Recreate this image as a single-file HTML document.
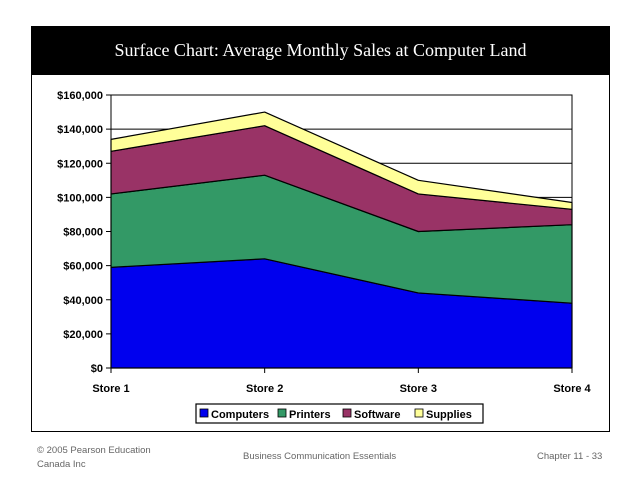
<!DOCTYPE html>
<html><head><meta charset="utf-8"><style>
body{margin:0;width:638px;height:479px;background:#fff;overflow:hidden;font-family:"Liberation Sans",sans-serif;}
#title{position:absolute;left:31px;top:26px;width:579px;height:49px;background:#000;color:#fff;font-family:"Liberation Serif",serif;font-size:18px;text-align:center;line-height:49px;}
#box{position:absolute;left:31px;top:75px;width:577px;height:356px;border:1.5px solid #000;border-top:none;box-sizing:content-box;}
.foot{position:absolute;font-size:9.5px;color:#666;}
</style></head><body>
<div id="title">Surface Chart: Average Monthly Sales at Computer Land</div>
<div id="box"></div>
<svg id="chart" width="638" height="479" style="position:absolute;left:0;top:0"></svg>
<div class="foot" style="left:37px;top:444px;line-height:14px">© 2005 Pearson Education<br>Canada Inc</div>
<div class="foot" style="left:243px;top:451px">Business Communication Essentials</div>
<div class="foot" style="left:537px;top:451px">Chapter 11 - 33</div>
<script>
const categories=["Store 1","Store 2","Store 3","Store 4"];
const computers=[59000,64000,44000,38000];
const printers=[43000,49000,36000,46000];
const software=[25000,29000,22000,9000];
const supplies=[7000,8000,8000,4000];
const seriesNames=["Computers","Printers","Software","Supplies"];
const seriesColors=["#0000ee","#339966","#993366","#ffff99"];
const yTicks=[0,20000,40000,60000,80000,100000,120000,140000,160000];
const NS="http://www.w3.org/2000/svg",svg=document.getElementById('chart');
const X0=111,X1=572,Y0=368,Y1=95,YMAX=160000;
const xs=i=>X0+i*(X1-X0)/(categories.length-1);
const ys=v=>Y0-v/YMAX*(Y0-Y1);
function mk(t,a){const e=document.createElementNS(NS,t);for(const k in a)e.setAttribute(k,a[k]);svg.appendChild(e);return e;}
mk('rect',{x:X0,y:Y1,width:X1-X0,height:Y0-Y1,fill:'#fff',stroke:'#000','stroke-width':1});
yTicks.forEach(v=>{
 const g=mk('line',{x1:X0-5,x2:X1,y1:ys(v),y2:ys(v),stroke:'#000','stroke-width':1});
 
 const t=mk('text',{x:X0-8,y:ys(v)+4,'text-anchor':'end','font-size':11,'font-weight':'bold'});
 t.textContent='$'+v.toLocaleString('en-US');
 
});
const series=[computers,printers,software,supplies];
let base=categories.map(()=>0);
series.forEach((s,si)=>{
 const top=base.map((b,i)=>b+s[i]);
 let d='M'+categories.map((c,i)=>xs(i)+','+ys(top[i])).join(' L');
 for(let i=categories.length-1;i>=0;i--)d+=' L'+xs(i)+','+ys(base[i]);
 const p=mk('path',{d:d+'Z',fill:seriesColors[si],stroke:'#000','stroke-width':1.2,'stroke-linejoin':'round'});
 
 
 base=top;
});
categories.forEach((c,i)=>{
 mk('line',{x1:xs(i),x2:xs(i),y1:Y0,y2:Y0+5,stroke:'#000'});
 const t=mk('text',{x:xs(i),y:392,'text-anchor':'middle','font-size':11,'font-weight':'bold'});
 t.textContent=c;
 
});
const lg=mk('rect',{x:196,y:404,width:287,height:19,fill:'#fff',stroke:'#000','stroke-width':1.2});

let lx=200;const widths=[78,65,72,60];
seriesNames.forEach((n,i)=>{
 const r=mk('rect',{x:lx,y:409,width:8,height:8,fill:seriesColors[i],stroke:'#000','stroke-width':0.8});
 
 const t=mk('text',{x:lx+11,y:418,'font-size':11,'font-weight':'bold'});t.textContent=n;
 
 lx+=widths[i];
});
</script>
</body></html>
